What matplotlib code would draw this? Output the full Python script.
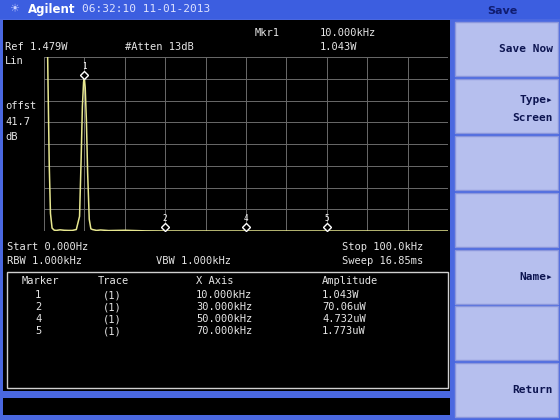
import matplotlib
matplotlib.use("Agg")
import matplotlib.pyplot as plt
from matplotlib.patches import Rectangle

freq_khz = [0, 0.5, 0.8, 1.0, 1.3, 1.6, 2.0, 2.5, 3, 4, 5, 6, 7, 8, 8.8, 9.2, 9.5, 9.8, 10, 10.2, 10.5, 10.8, 11.2, 11.6, 12, 13, 14, 16, 20, 25, 30, 40, 50, 60, 70, 80, 90, 100]
power_w = [1.6, 1.6, 1.4, 1.0, 0.45, 0.12, 0.02, 0.006, 0.004, 0.008, 0.005, 0.004, 0.004, 0.01, 0.1, 0.5, 0.85, 1.02, 1.043, 0.98, 0.75, 0.4, 0.08, 0.015, 0.01, 0.004, 0.007, 0.003, 0.005, 0.001, 0.00007, 0.0, 0.0000047, 0.0, 0.0000018, 0.0, 0.0, 0.0]
marker_ids = ["1", "2", "4", "5"]
marker_khz = [10.0, 30.0, 50.0, 70.0]
marker_w = [1.043, 70.06e-6, 4.732e-6, 1.773e-6]
marker_x_text = ["10.000kHz", "30.000kHz", "50.000kHz", "70.000kHz"]
marker_amp_text = ["1.043W", "70.06uW", "4.732uW", "1.773uW"]
softkeys = ["Save Now", "Type\u25b8\nScreen", "", "", "Name\u25b8", "", "Return"]

W, H = 560, 420
fig = plt.figure(figsize=(5.6, 4.2), dpi=100)
fig.patch.set_facecolor("#4a68e0")
bg = fig.add_axes([0, 0, 1, 1])
bg.set_xlim(0, W); bg.set_ylim(H, 0); bg.axis("off")

def rect(x, y, w, h, fc, ec="none", lw=1):
    bg.add_patch(Rectangle((x, y), w, h, facecolor=fc, edgecolor=ec, lw=lw))

rect(0, 0, W, 19, "#3c5ee0")
rect(3, 20, 447, 371, "black")
rect(3, 398, 447, 17, "black")
rect(450, 19, 110, 401, "#4a68e0")
mono = "DejaVu Sans Mono"
tc = "#e6e6e6"
bg.text(9, 9, "\u2600", color="#c8d0ff", fontsize=8, va="center")
bg.text(28, 9, "Agilent", color="white", fontsize=8.5, weight="bold", va="center")
bg.text(82, 9, "06:32:10 11-01-2013", color="#dde2ff", fontsize=8, va="center", family=mono)
bg.text(502, 11, "Save", color="#101c70", fontsize=8, weight="bold", va="center", ha="center")
keys_y = [22, 79, 136, 193, 250, 306, 363]
for y, lab in zip(keys_y, softkeys):
    rect(455, y, 103, 54, "#b6bfee", ec="#8a96dc")
    if lab:
        bg.text(553, y + 27 if "\n" not in lab else y + 30, lab, color="#0c1450", fontsize=8,
                weight="bold", ha="right", va="center", family=mono, linespacing=1.9)

def t(x, y, s, **kw):
    bg.text(x, y, s, color=tc, fontsize=7.5, va="center", family=mono, **kw)

t(255, 33, "Mkr1"); t(320, 33, "10.000kHz")
t(5, 47, "Ref 1.479W"); t(125, 47, "#Atten 13dB"); t(320, 47, "1.043W")
t(5, 61, "Lin"); t(5, 106, "offst"); t(5, 122, "41.7"); t(5, 137, "dB")
t(7, 247, "Start 0.000Hz"); t(342, 247, "Stop 100.0kHz")
t(7, 261, "RBW 1.000kHz"); t(156, 261, "VBW 1.000kHz"); t(342, 261, "Sweep 16.85ms")
rect(7, 272, 441, 116, "none", ec="#d0d0d0", lw=1)
t(22, 281, "Marker"); t(98, 281, "Trace"); t(196, 281, "X Axis"); t(322, 281, "Amplitude")
for i, (m, xs, a) in enumerate(zip(marker_ids, marker_x_text, marker_amp_text)):
    y = 295 + 12 * i
    t(35, y, m); t(103, y, "(1)"); t(196, y, xs); t(322, y, a)

ax = fig.add_axes([44 / W, 1 - 231 / H, 404 / W, 174 / H])
ax.set_facecolor("black")
ax.set_xlim(0, 100); ax.set_ylim(0, 1.19)
ax.set_xticks(range(0, 101, 10)); ax.set_yticks([1.19 * k / 8 for k in range(9)])
ax.grid(True, color="#6a6a6a", lw=0.7)
ax.tick_params(length=0, labelbottom=False, labelleft=False)
for s in ax.spines.values():
    s.set_visible(False)
ax.plot(freq_khz, power_w, color="#e8e890", lw=1.1, clip_on=True)
for m, f, p in zip(marker_ids, marker_khz, marker_w):
    ax.plot([f], [p + 0.025], marker="D", ms=4.5, mfc="black", mec="white", mew=1, clip_on=False)
    ax.text(f, p + 0.085, m, color="white", fontsize=5.5, ha="center", va="center", family=mono)
fig.savefig("out.png", dpi=100, facecolor=fig.get_facecolor())
